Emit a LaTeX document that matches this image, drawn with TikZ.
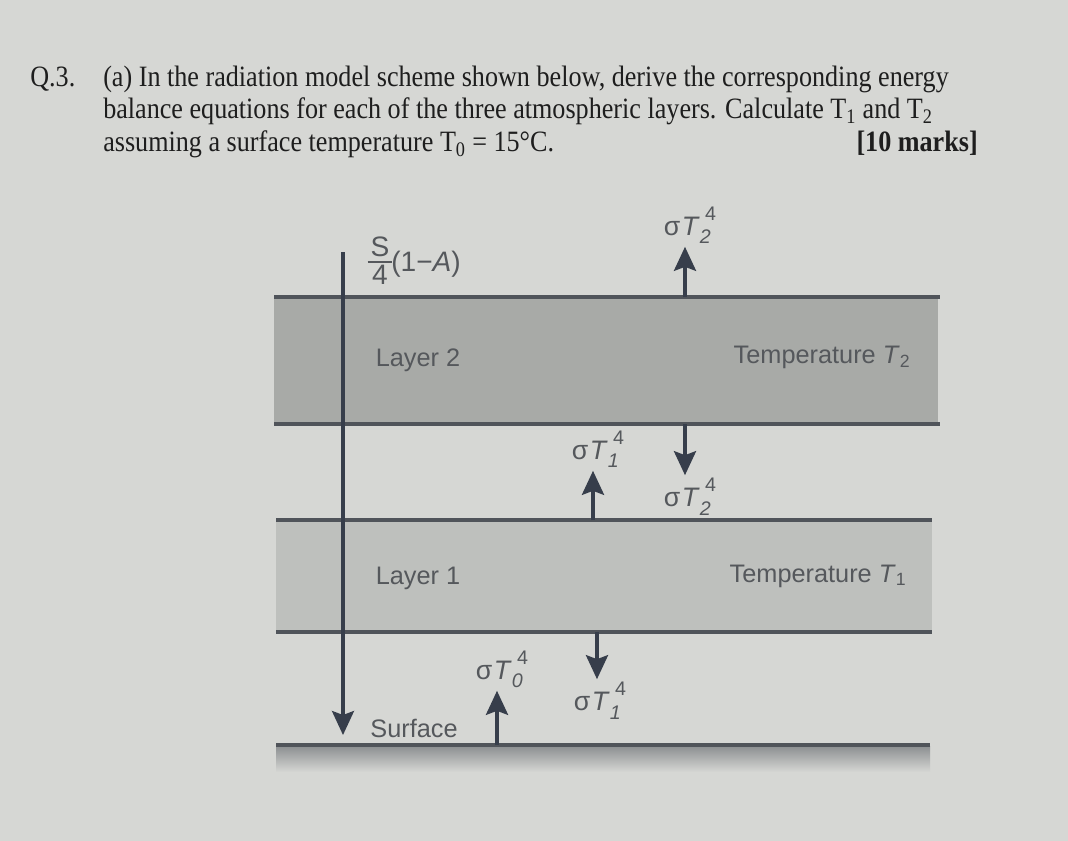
\documentclass[tikz,border=0pt]{standalone}
\usepackage{fontspec}
\setmainfont{Liberation Serif}[FakeStretch=0.885]
\newfontfamily\labelfont{Liberation Sans}
\usetikzlibrary{arrows.meta}
\definecolor{bgcol}{RGB}{214,215,212}
\definecolor{laytwocol}{RGB}{168,170,167}
\definecolor{layonecol}{RGB}{190,192,189}
\definecolor{linecol}{RGB}{80,84,90}
\definecolor{arrowcol}{RGB}{55,62,75}
\definecolor{labelcol}{RGB}{85,88,92}
\definecolor{textcol}{RGB}{30,30,30}
\definecolor{surfcol}{RGB}{140,143,145}
\newcommand{\sigT}[1]{σ\kern0.06em\textit{T}\rlap{\raisebox{-0.6ex}{\fontsize{14}{14}\selectfont\textit{#1}}}\kern0.2em\raisebox{1.05ex}{\fontsize{14}{14}\selectfont 4}}
\begin{document}
\begin{tikzpicture}[x=0.025cm,y=-0.025cm,
  edge/.style={draw=linecol,line width=2.2pt},
  flux/.style={draw=arrowcol,line width=2.6pt,shorten >=2pt,
    -{Stealth[length=0.6cm,width=0.55cm,inset=0.1cm]}},
  lbl/.style={text=labelcol,inner sep=0pt,font=\labelfont\fontsize{18}{20}\selectfont},
  fraclbl/.style={lbl,anchor=base,font=\labelfont\fontsize{20}{20}\selectfont},
  fluxlbl/.style={text=labelcol,inner sep=0pt,font=\labelfont\fontsize{19}{21}\selectfont},
  qtext/.style={anchor=base west,inner sep=0pt,text=textcol,font=\fontsize{21}{24}\selectfont}]
\useasboundingbox (0,0) rectangle (1068,841);
\fill[bgcol] (0,0) rectangle (1068,841);
% question text
\node[qtext] (qno) at (30,87) {Q.3.};
\node[qtext] (qone) at (103,87) {(a) In the radiation model scheme shown below, derive the corresponding energy};
\node[qtext] (qtwo) at (103,119) {balance equations for each of the three atmospheric layers. Calculate T\textsubscript{1} and T\textsubscript{2}};
\node[qtext] (qthree) at (103,152) {assuming a surface temperature T\textsubscript{0} = 15°C.};
\node[qtext,anchor=base east,font=\fontsize{21}{24}\selectfont\bfseries] (marks) at (978,152) {[10 marks]};
% layers
\fill[laytwocol] (274,297) rectangle (938,424);
\fill[layonecol] (276,520) rectangle (932,632);
\draw[edge] (274,297) -- (940,297);
\draw[edge] (274,424) -- (940,424);
\draw[edge] (276,520) -- (932,520);
\draw[edge] (276,632) -- (932,632);
% surface
\shade[top color=surfcol,bottom color=bgcol] (276,746) rectangle (930,772);
\draw[draw=linecol,line width=3.4pt] (276,745) -- (930,745);
% labels
\node[lbl] (ltwo) at (418,360) {Layer 2};
\node[lbl] (ttwo) at (822,357) {Temperature \textit{T}\textsubscript{2}};
\node[lbl] (lone) at (418,578) {Layer 1};
\node[lbl] (tone) at (818,576) {Temperature \textit{T}\textsubscript{1}};
\node[lbl] (surf) at (414,728) {Surface};
\node[fraclbl] (fracnum) at (380,256) {S};
\node[fraclbl] (fracden) at (380,284) {4};
\draw[labelcol,line width=1.3pt] ([xshift=-2pt,yshift=-4.3pt]fracnum.base west) -- ([xshift=2pt,yshift=-4.3pt]fracnum.base east);
\node[lbl,anchor=west,font=\labelfont\fontsize{20}{22}\selectfont] (solar) at (391,264) {(1−\textit{A})};
% solar flux
\coordinate (sun) at (343,252);
\coordinate (sunend) at (343,735);
\draw[flux,line width=2.2pt,shorten >=0pt] (sun) -- (sunend);
% longwave fluxes
\coordinate (bzero) at (497,745);
\node[fluxlbl,anchor=south] (fzero) at (502,688) {\sigT{0}};
\draw[flux] (bzero) -- (bzero |- fzero.south);
\coordinate (bonedn) at (597,632);
\node[fluxlbl,anchor=north] (fonedn) at (600,682) {\sigT{1}};
\draw[flux] (bonedn) -- (bonedn |- fonedn.north);
\coordinate (boneup) at (593,520);
\node[fluxlbl,anchor=south] (foneup) at (598,468) {\sigT{1}};
\draw[flux] (boneup) -- (boneup |- foneup.south);
\coordinate (btwodn) at (685,424);
\node[fluxlbl,anchor=north] (ftwodn) at (690,478) {\sigT{2}};
\draw[flux] (btwodn) -- (btwodn |- ftwodn.north);
\coordinate (btwoup) at (685,297);
\node[fluxlbl,anchor=south] (ftwoup) at (690,244) {\sigT{2}};
\draw[flux] (btwoup) -- (btwoup |- ftwoup.south);
\end{tikzpicture}
\end{document}
